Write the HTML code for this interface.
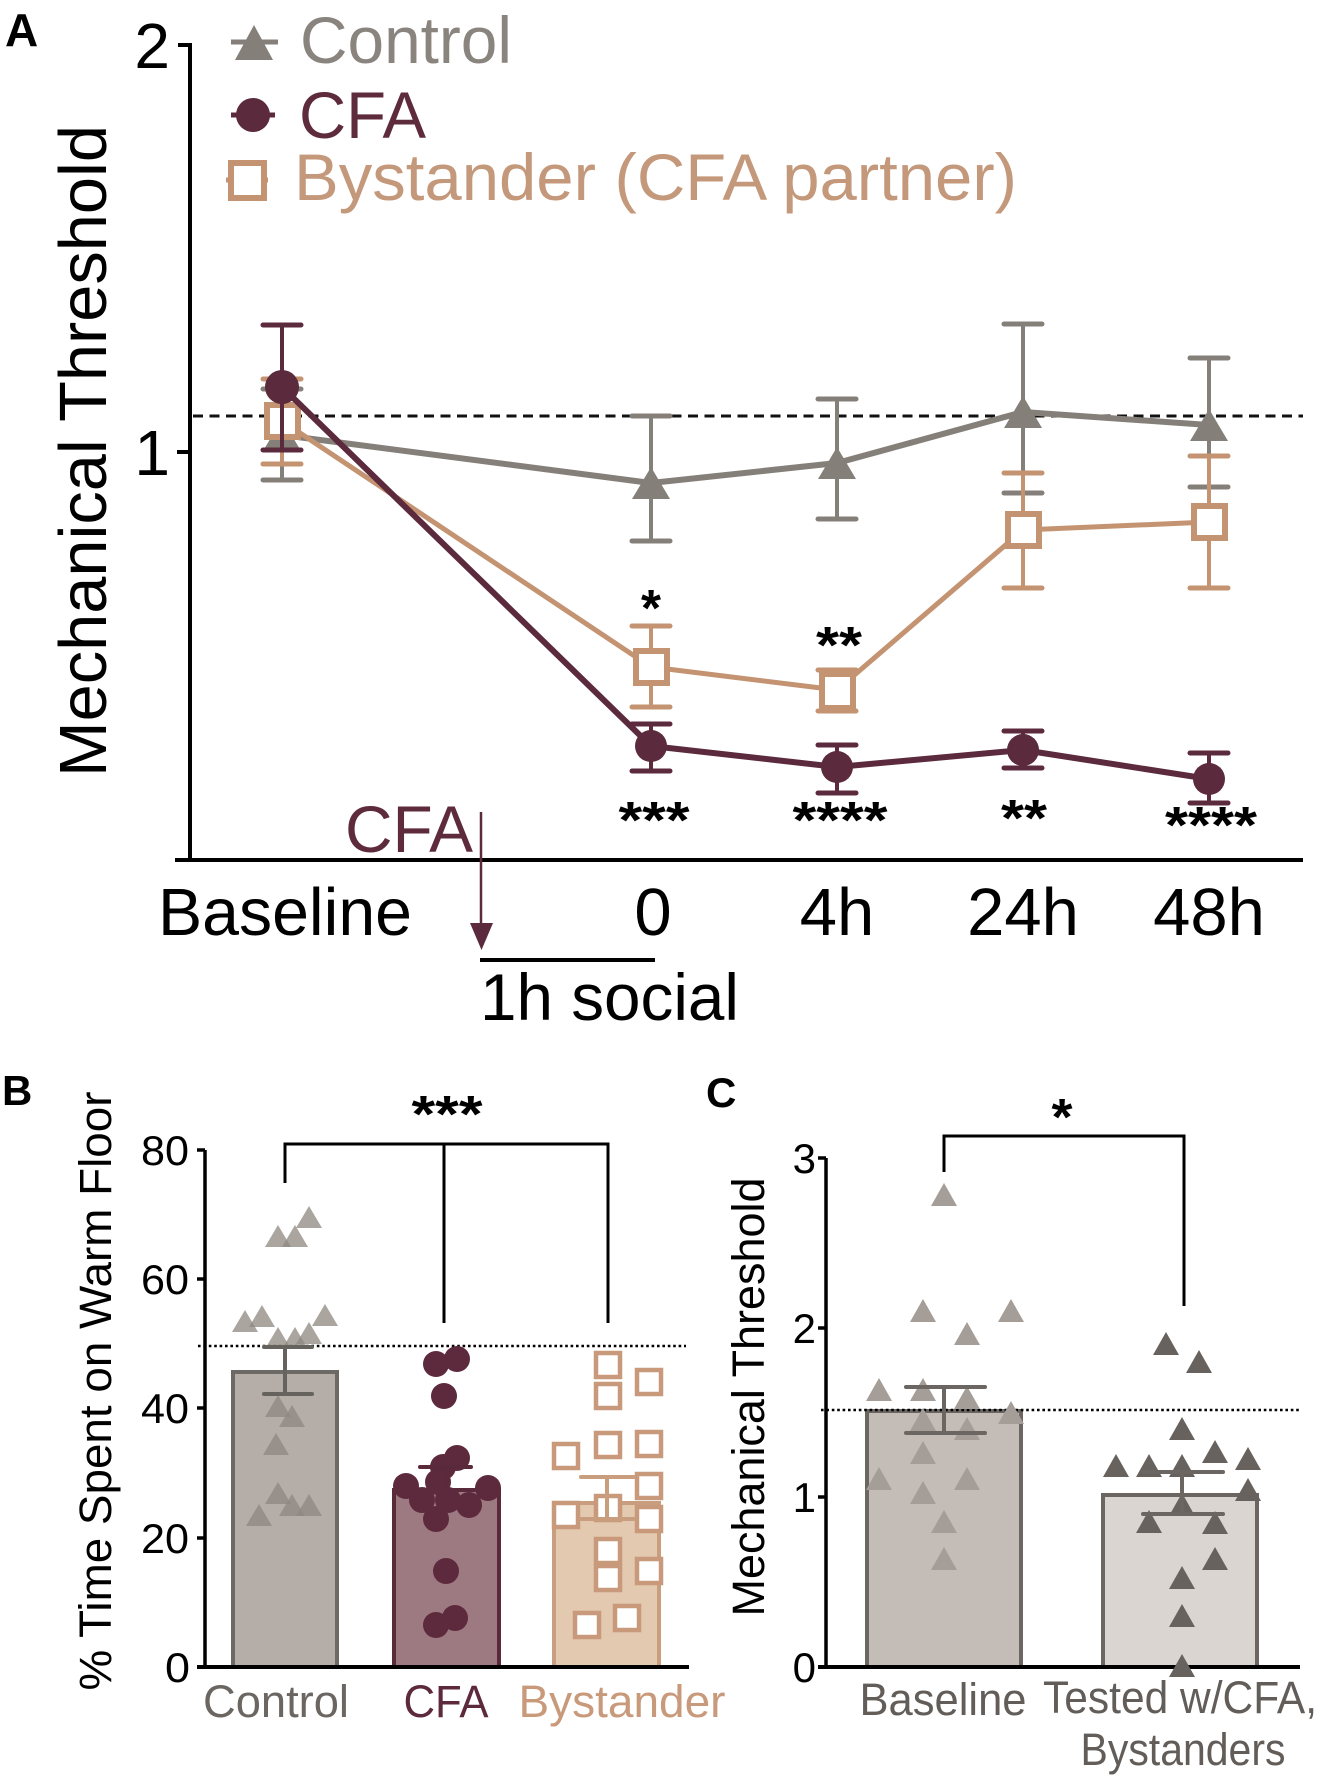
<!DOCTYPE html>
<html><head><meta charset="utf-8"><style>
html,body{margin:0;padding:0;background:#fff;}
svg{display:block;}
text{font-family:"Liberation Sans",Arial,sans-serif;}
</style></head><body>
<svg width="1328" height="1789" viewBox="0 0 1328 1789" xmlns="http://www.w3.org/2000/svg">
<rect width="1328" height="1789" fill="#fff"/>

<!-- ================= PANEL A ================= -->
<text x="5" y="46" font-size="46" font-weight="bold" fill="#000">A</text>
<!-- axes -->
<line x1="190" y1="43" x2="190" y2="862" stroke="#000" stroke-width="4"/>
<line x1="178" y1="45" x2="190" y2="45" stroke="#000" stroke-width="4"/>
<line x1="177" y1="452" x2="190" y2="452" stroke="#000" stroke-width="4"/>
<line x1="175" y1="860" x2="1303" y2="860" stroke="#000" stroke-width="4"/>
<text x="170" y="68" font-size="64" text-anchor="end">2</text>
<text x="170" y="475" font-size="64" text-anchor="end">1</text>
<text transform="translate(106,451) rotate(-90)" font-size="67" text-anchor="middle" textLength="652" lengthAdjust="spacingAndGlyphs">Mechanical Threshold</text>
<line x1="193" y1="416" x2="1303" y2="416" stroke="#111" stroke-width="3" stroke-dasharray="10,6.5"/>

<!-- legend -->
<line x1="231" y1="42" x2="278" y2="42" stroke="#857f79" stroke-width="5"/>
<path d="M254,25l19,35h-38z" fill="#857f79"/>
<text x="300" y="63" font-size="66" fill="#8a847f" textLength="212" lengthAdjust="spacingAndGlyphs">Control</text>
<line x1="231" y1="115" x2="275" y2="115" stroke="#5b2a3c" stroke-width="5"/>
<circle cx="253" cy="115" r="17" fill="#5b2a3c"/>
<text x="299" y="138" font-size="66" fill="#5e2b3d" textLength="127" lengthAdjust="spacingAndGlyphs">CFA</text>
<line x1="226" y1="180" x2="268" y2="180" stroke="#c39372" stroke-width="5"/>
<rect x="231" y="163" width="33" height="35" fill="#fff" stroke="#c39372" stroke-width="6"/>
<text x="294" y="200" font-size="66" fill="#c4987a" textLength="723" lengthAdjust="spacingAndGlyphs">Bystander (CFA partner)</text>

<!-- Control series -->
<g stroke="#857f79" fill="none" stroke-linecap="round">
<polyline points="282,435 651,483 837,463 1023,412 1209,425" stroke-width="6" stroke-linejoin="round"/>
<g stroke-width="4">
<line x1="282" y1="389" x2="282" y2="480"/><line x1="651" y1="416" x2="651" y2="541"/><line x1="837" y1="399" x2="837" y2="519"/><line x1="1023" y1="324" x2="1023" y2="493"/><line x1="1209" y1="358" x2="1209" y2="487"/>
</g>
<g stroke-width="5">
<line x1="263" y1="389" x2="301" y2="389"/><line x1="263" y1="480" x2="301" y2="480"/>
<line x1="632" y1="416" x2="670" y2="416"/><line x1="632" y1="541" x2="670" y2="541"/>
<line x1="818" y1="399" x2="856" y2="399"/><line x1="818" y1="519" x2="856" y2="519"/>
<line x1="1004" y1="324" x2="1042" y2="324"/><line x1="1004" y1="493" x2="1042" y2="493"/>
<line x1="1190" y1="358" x2="1228" y2="358"/><line x1="1190" y1="487" x2="1228" y2="487"/>
</g>
</g>
<g fill="#857f79">
<path d="M282,419l19,32h-38z"/><path d="M651,467l19,32h-38z"/><path d="M837,447l19,32h-38z"/><path d="M1023,396l19,32h-38z"/><path d="M1209,409l19,32h-38z"/>
</g>

<!-- Bystander series -->
<g stroke="#c39372" fill="none" stroke-linecap="round">
<polyline points="282,421 651,667 837,690 1023,530 1209,522" stroke-width="5" stroke-linejoin="round"/>
<g stroke-width="4">
<line x1="282" y1="379" x2="282" y2="464"/><line x1="651" y1="626" x2="651" y2="707"/><line x1="837" y1="670" x2="837" y2="711"/><line x1="1023" y1="473" x2="1023" y2="588"/><line x1="1209" y1="456" x2="1209" y2="588"/>
</g>
<g stroke-width="5">
<line x1="263" y1="379" x2="301" y2="379"/><line x1="263" y1="464" x2="301" y2="464"/>
<line x1="632" y1="626" x2="670" y2="626"/><line x1="632" y1="707" x2="670" y2="707"/>
<line x1="818" y1="670" x2="856" y2="670"/><line x1="818" y1="711" x2="856" y2="711"/>
<line x1="1004" y1="473" x2="1042" y2="473"/><line x1="1004" y1="588" x2="1042" y2="588"/>
<line x1="1190" y1="456" x2="1228" y2="456"/><line x1="1190" y1="588" x2="1228" y2="588"/>
</g>
</g>
<g fill="#fff" stroke="#c39372" stroke-width="6">
<rect x="267" y="405" width="31" height="32"/>
<rect x="636" y="651" width="31" height="32"/>
<rect x="822" y="674" width="31" height="34"/>
<rect x="1008" y="514" width="31" height="32"/>
<rect x="1194" y="506" width="31" height="32"/>
</g>

<!-- CFA series -->
<g stroke="#5b2a3c" fill="none" stroke-linecap="round">
<polyline points="282,387 651,746 837,767 1023,750 1209,779" stroke-width="6" stroke-linejoin="round"/>
<g stroke-width="4">
<line x1="282" y1="325" x2="282" y2="450"/><line x1="651" y1="724" x2="651" y2="771"/><line x1="837" y1="745" x2="837" y2="793"/><line x1="1023" y1="731" x2="1023" y2="768"/><line x1="1209" y1="753" x2="1209" y2="803"/>
</g>
<g stroke-width="5">
<line x1="263" y1="325" x2="301" y2="325"/><line x1="263" y1="450" x2="301" y2="450"/>
<line x1="632" y1="724" x2="670" y2="724"/><line x1="632" y1="771" x2="670" y2="771"/>
<line x1="818" y1="745" x2="856" y2="745"/><line x1="818" y1="793" x2="856" y2="793"/>
<line x1="1004" y1="731" x2="1042" y2="731"/><line x1="1004" y1="768" x2="1042" y2="768"/>
<line x1="1190" y1="753" x2="1228" y2="753"/><line x1="1190" y1="803" x2="1228" y2="803"/>
</g>
</g>
<g fill="#5b2a3c">
<circle cx="282" cy="387" r="17"/><circle cx="651" cy="746" r="16"/><circle cx="837" cy="767" r="16"/><circle cx="1023" cy="750" r="16"/><circle cx="1209" cy="779" r="16"/>
</g>

<!-- significance stars A -->
<g font-size="52" font-weight="bold" fill="#000" text-anchor="middle">
<text x="651" y="626" textLength="20" lengthAdjust="spacingAndGlyphs">*</text>
<text x="839" y="663" textLength="46" lengthAdjust="spacingAndGlyphs">**</text>
<text x="654" y="838" textLength="71" lengthAdjust="spacingAndGlyphs">***</text>
<text x="840" y="838" textLength="95" lengthAdjust="spacingAndGlyphs">****</text>
<text x="1024" y="836" textLength="46" lengthAdjust="spacingAndGlyphs">**</text>
<text x="1211" y="843" textLength="92" lengthAdjust="spacingAndGlyphs">****</text>
</g>

<!-- x labels A -->
<g font-size="67" fill="#000" text-anchor="middle">
<text x="285" y="935" textLength="254" lengthAdjust="spacingAndGlyphs">Baseline</text>
<text x="653" y="935">0</text>
<text x="837" y="935">4h</text>
<text x="1023" y="935">24h</text>
<text x="1209" y="935">48h</text>
</g>
<text x="345" y="852" font-size="66" fill="#5e2b3d" textLength="128" lengthAdjust="spacingAndGlyphs">CFA</text>
<line x1="481" y1="812" x2="481" y2="926" stroke="#5b2a3c" stroke-width="2.5"/>
<path d="M470,923h23l-11.5,27z" fill="#5b2a3c"/>
<line x1="480" y1="960" x2="655" y2="960" stroke="#000" stroke-width="4"/>
<text x="480" y="1020" font-size="66" fill="#000" textLength="259" lengthAdjust="spacingAndGlyphs">1h social</text>

<!-- ================= PANEL B ================= -->
<text x="2" y="1105" font-size="42" font-weight="bold" fill="#000">B</text>
<rect x="233" y="1372" width="104" height="295" fill="#b5ada7" stroke="#6d6964" stroke-width="4"/>
<rect x="394" y="1490" width="105" height="177" fill="#9d7981" stroke="#5a2a3b" stroke-width="4"/>
<rect x="554" y="1503" width="105" height="164" fill="#e3c9b0" stroke="#c99e7e" stroke-width="4"/>
<line x1="198" y1="1346" x2="686" y2="1346" stroke="#000" stroke-width="2.5" stroke-dasharray="2.6,2.8"/>
<line x1="205" y1="1150" x2="205" y2="1669" stroke="#000" stroke-width="3.5"/>
<g stroke="#000" stroke-width="3.5">
<line x1="197" y1="1150" x2="205" y2="1150"/><line x1="197" y1="1279" x2="205" y2="1279"/><line x1="197" y1="1408" x2="205" y2="1408"/><line x1="197" y1="1538" x2="205" y2="1538"/>
</g>
<line x1="197" y1="1667" x2="689" y2="1667" stroke="#000" stroke-width="4"/>
<g font-size="42" fill="#000" text-anchor="end">
<text x="189" y="1165" textLength="48" lengthAdjust="spacingAndGlyphs">80</text>
<text x="189" y="1294" textLength="48" lengthAdjust="spacingAndGlyphs">60</text>
<text x="189" y="1423" textLength="48" lengthAdjust="spacingAndGlyphs">40</text>
<text x="189" y="1553" textLength="48" lengthAdjust="spacingAndGlyphs">20</text>
<text x="190" y="1682" textLength="25" lengthAdjust="spacingAndGlyphs">0</text>
</g>
<text transform="translate(111,1391) rotate(-90)" font-size="45" text-anchor="middle" textLength="599" lengthAdjust="spacingAndGlyphs">% Time Spent on Warm Floor</text>

<!-- B points -->
<g fill="#8f8780" fill-opacity="0.75">
<path d="M309,1206l13,22h-26z"/><path d="M278,1225l13,22h-26z"/><path d="M295,1225l13,22h-26z"/><path d="M245,1310l13,22h-26z"/><path d="M262,1305l13,22h-26z"/><path d="M325,1304l13,22h-26z"/><path d="M278,1327l13,22h-26z"/><path d="M295,1327l13,22h-26z"/><path d="M309,1322l13,22h-26z"/><path d="M278,1395l13,22h-26z"/><path d="M292,1405l13,22h-26z"/><path d="M276,1433l13,22h-26z"/><path d="M278,1482l13,22h-26z"/><path d="M292,1494l13,22h-26z"/><path d="M309,1494l13,22h-26z"/><path d="M259,1504l13,22h-26z"/>
</g>
<g fill="#5c2a3c">
<circle cx="436" cy="1364" r="13"/><circle cx="457" cy="1359" r="13"/><circle cx="444" cy="1396" r="13"/><circle cx="457" cy="1458" r="13"/><circle cx="443" cy="1467" r="13"/><circle cx="406" cy="1486" r="13"/><circle cx="438" cy="1482" r="13"/><circle cx="488" cy="1488" r="13"/><circle cx="422" cy="1500" r="13"/><circle cx="448" cy="1500" r="13"/><circle cx="469" cy="1505" r="13"/><circle cx="436" cy="1519" r="13"/><circle cx="446" cy="1571" r="13"/><circle cx="436" cy="1625" r="13"/><circle cx="455" cy="1618" r="13"/>
</g>
<g fill="#fff" stroke="#c8997a" stroke-width="4.5">
<rect x="596" y="1353" width="24" height="24"/><rect x="637" y="1370" width="24" height="24"/><rect x="596" y="1384" width="24" height="24"/><rect x="554" y="1444" width="24" height="24"/><rect x="596" y="1433" width="24" height="24"/><rect x="637" y="1432" width="24" height="24"/><rect x="596" y="1496" width="24" height="24"/><rect x="554" y="1503" width="24" height="24"/><rect x="637" y="1474" width="24" height="24"/><rect x="637" y="1507" width="24" height="24"/><rect x="596" y="1539" width="24" height="24"/><rect x="637" y="1559" width="24" height="24"/><rect x="596" y="1566" width="24" height="24"/><rect x="575" y="1613" width="24" height="24"/><rect x="615" y="1606" width="24" height="24"/>
</g>
<!-- B error bars -->
<g stroke="#66625d" stroke-width="4" stroke-linecap="round">
<line x1="285" y1="1347" x2="285" y2="1394"/><line x1="264" y1="1347" x2="312" y2="1347"/><line x1="264" y1="1394" x2="312" y2="1394"/>
</g>
<g stroke="#5a2a3b" stroke-width="4" stroke-linecap="round">
<line x1="446" y1="1467" x2="446" y2="1490"/><line x1="420" y1="1467" x2="471" y2="1467"/>
</g>
<g stroke="#c99e7e" stroke-width="4" stroke-linecap="round">
<line x1="607" y1="1477" x2="607" y2="1519"/><line x1="581" y1="1477" x2="634" y2="1477"/><line x1="581" y1="1519" x2="634" y2="1519"/>
</g>
<!-- B bracket -->
<g stroke="#000" stroke-width="3" fill="none">
<polyline points="285,1183 285,1144 608,1144 608,1323"/>
<line x1="444" y1="1144" x2="444" y2="1323"/>
</g>
<text x="447" y="1132" font-size="52" font-weight="bold" text-anchor="middle" textLength="71" lengthAdjust="spacingAndGlyphs">***</text>
<g font-size="45" text-anchor="middle">
<text x="276" y="1717" fill="#6b6661" textLength="146" lengthAdjust="spacingAndGlyphs">Control</text>
<text x="446" y="1717" fill="#5c2a3c" textLength="85" lengthAdjust="spacingAndGlyphs">CFA</text>
<text x="622" y="1717" fill="#c8997a" textLength="207" lengthAdjust="spacingAndGlyphs">Bystander</text>
</g>

<!-- ================= PANEL C ================= -->
<text x="706" y="1107" font-size="42" font-weight="bold" fill="#000">C</text>
<rect x="867" y="1411" width="154" height="256" fill="#c4bcb7" stroke="#6b6662" stroke-width="4"/>
<rect x="1103" y="1495" width="154" height="172" fill="#dad5d1" stroke="#6b6662" stroke-width="4"/>
<line x1="821" y1="1410" x2="1300" y2="1410" stroke="#000" stroke-width="2.5" stroke-dasharray="2.6,2.8"/>
<line x1="826" y1="1158" x2="826" y2="1669" stroke="#000" stroke-width="3.5"/>
<g stroke="#000" stroke-width="3.5">
<line x1="818" y1="1158" x2="826" y2="1158"/><line x1="818" y1="1328" x2="826" y2="1328"/><line x1="818" y1="1497" x2="826" y2="1497"/>
</g>
<line x1="818" y1="1667" x2="1300" y2="1667" stroke="#000" stroke-width="4"/>
<g font-size="42" fill="#000" text-anchor="end">
<text x="816" y="1173">3</text>
<text x="816" y="1343">2</text>
<text x="816" y="1512">1</text>
<text x="816" y="1682">0</text>
</g>
<text transform="translate(764,1397) rotate(-90)" font-size="45" text-anchor="middle" textLength="439" lengthAdjust="spacingAndGlyphs">Mechanical Threshold</text>
<g fill="#a59e98">
<path d="M944,1183l13,23h-26z"/><path d="M923,1299l13,23h-26z"/><path d="M1011,1299l13,23h-26z"/><path d="M967,1322l13,23h-26z"/><path d="M879,1378l13,23h-26z"/><path d="M923,1378l13,23h-26z"/><path d="M967,1386l13,23h-26z"/><path d="M923,1408l13,23h-26z"/><path d="M1011,1401l13,23h-26z"/><path d="M967,1417l13,23h-26z"/><path d="M923,1441l13,23h-26z"/><path d="M879,1467l13,23h-26z"/><path d="M967,1467l13,23h-26z"/><path d="M923,1481l13,23h-26z"/><path d="M944,1510l13,23h-26z"/><path d="M944,1547l13,23h-26z"/>
</g>
<g fill="#67625e">
<path d="M1166,1332l13,23h-26z"/><path d="M1199,1350l13,23h-26z"/><path d="M1182,1417l13,23h-26z"/><path d="M1116,1454l13,23h-26z"/><path d="M1149,1454l13,23h-26z"/><path d="M1182,1454l13,23h-26z"/><path d="M1215,1440l13,23h-26z"/><path d="M1248,1447l13,23h-26z"/><path d="M1248,1478l13,23h-26z"/><path d="M1182,1493l13,23h-26z"/><path d="M1149,1510l13,23h-26z"/><path d="M1215,1511l13,23h-26z"/><path d="M1215,1547l13,23h-26z"/><path d="M1182,1566l13,23h-26z"/><path d="M1182,1604l13,23h-26z"/><path d="M1182,1654l13,23h-26z"/>
</g>
<g stroke="#6b6662" stroke-width="4" stroke-linecap="round">
<line x1="944" y1="1387" x2="944" y2="1433"/><line x1="906" y1="1387" x2="985" y2="1387"/><line x1="906" y1="1433" x2="985" y2="1433"/>
<line x1="1182" y1="1472" x2="1182" y2="1514"/><line x1="1143" y1="1472" x2="1223" y2="1472"/><line x1="1143" y1="1514" x2="1223" y2="1514"/>
</g>
<g stroke="#000" stroke-width="3" fill="none">
<polyline points="944,1172 944,1136 1184,1136 1184,1306"/>
</g>
<text x="1062" y="1135" font-size="52" font-weight="bold" text-anchor="middle" textLength="21" lengthAdjust="spacingAndGlyphs">*</text>
<g font-size="45" fill="#625d59" text-anchor="middle">
<text x="943" y="1715" textLength="167" lengthAdjust="spacingAndGlyphs">Baseline</text>
<text x="1180" y="1713" textLength="274" lengthAdjust="spacingAndGlyphs">Tested w/CFA,</text>
<text x="1183" y="1765" textLength="205" lengthAdjust="spacingAndGlyphs">Bystanders</text>
</g>
</svg>
</body></html>
